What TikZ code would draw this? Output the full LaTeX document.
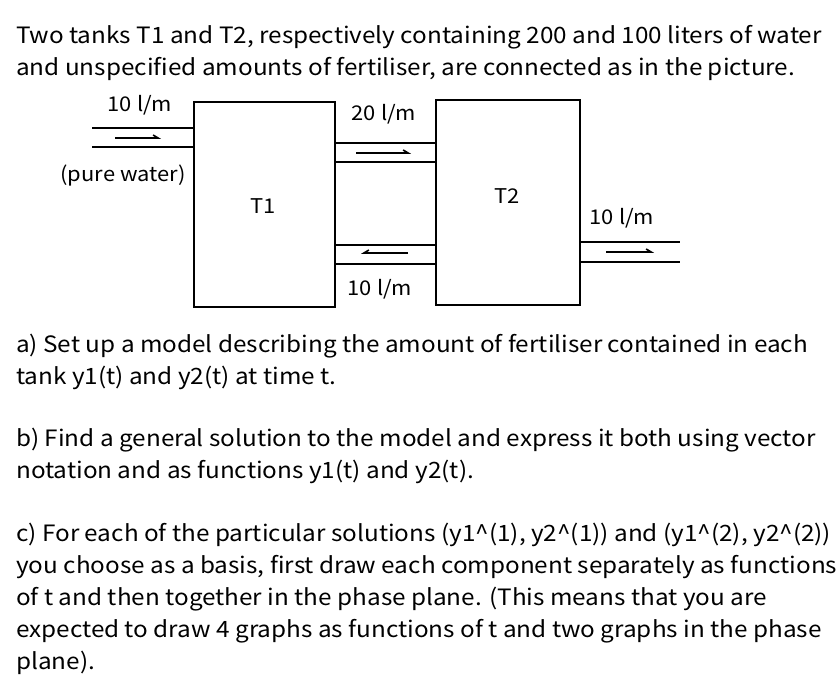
\documentclass[tikz,border=0pt]{standalone}
\usepackage{fontspec}
\setmainfont{Noto Sans CJK KR}[FakeStretch=1.08]
\usetikzlibrary{arrows.meta}
\begin{document}
\begin{tikzpicture}[x=1pt,y=-1pt,
  pipe/.style={line width=1.6pt},
  tank/.style={draw,line width=1.6pt},
  flow/.style={line width=1.6pt,-{Straight Barb[left,length=5pt,width=6pt]}},
  flowl/.style={line width=1.6pt,-{Straight Barb[right,length=5pt,width=6pt]}},
  body/.style={anchor=west,inner sep=0pt,font=\fontsize{22.5}{26}\selectfont},
  lab/.style={inner sep=0pt,font=\fontsize{20.3}{24}\selectfont}]
\useasboundingbox (0,0) rectangle (836,688);
\fill[white] (0,0) rectangle (836,688);
% text
\node[body] (l1) at (16,37) {Two tanks T1 and T2, respectively containing 200 and 100 liters of water};
\node[body] (l2) at (16,69) {and unspecified amounts of fertiliser, are connected as in the picture.};
\node[body] (a1) at (16,346) {a) Set up a model describing the amount of fertiliser contained in each};
\node[body] (a2) at (16,378) {tank y1(t) and y2(t) at time t.};
\node[body] (b1) at (16,440) {b) Find a general solution to the model and express it both using vector};
\node[body] (b2) at (16,472) {notation and as functions y1(t) and y2(t).};
\node[body] (c1) at (16,535) {c) For each of the particular solutions (y1\^{}(1), y2\^{}(1)) and (y1\^{}(2), y2\^{}(2))};
\node[body] (c2) at (16,567) {you choose as a basis, first draw each component separately as functions};
\node[body] (c3) at (16,599) {of t and then together in the phase plane. (This means that you are};
\node[body] (c4) at (16,631) {expected to draw 4 graphs as functions of t and two graphs in the phase};
\node[body] (c5) at (16,663) {plane).};
% tanks
\draw[tank] (194,102) rectangle (335,307);
\draw[tank] (436,100) rectangle (580,305);
\node[lab] (t1) at (263,206) {T1};
\node[lab] (t2) at (507,196) {T2};
% pipes
\draw[pipe] (92,128) -- (194,128) (92,147) -- (194,147);
\draw[pipe] (335,143) -- (436,143) (335,162) -- (436,162);
\draw[pipe] (335,245) -- (436,245) (335,264) -- (436,264);
\draw[pipe] (580,242) -- (680,242) (580,262) -- (680,262);
\coordinate (i1) at (115,138); \coordinate (i2) at (161,138);
\coordinate (u1) at (356,153); \coordinate (u2) at (411,153);
\coordinate (d1) at (408,253); \coordinate (d2) at (361,253);
\coordinate (o1) at (606,252); \coordinate (o2) at (654,252);
\draw[flow] (i1) -- (i2);
\draw[flow] (u1) -- (u2);
\draw[flowl] (d1) -- (d2);
\draw[flow] (o1) -- (o2);
% labels
\node[lab] (f1) at (140,105) {10 l/m};
\node[lab] (pw) at (123,176) {(pure water)};
\node[lab] (f2) at (384,114) {20 l/m};
\node[lab] (f3) at (622,218) {10 l/m};
\node[lab] (f4) at (380,289) {10 l/m};
\end{tikzpicture}
\end{document}
